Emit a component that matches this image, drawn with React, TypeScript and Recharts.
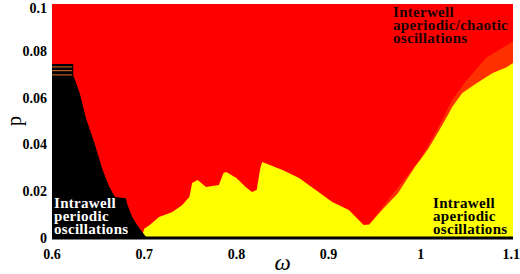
import { ComposedChart, Area, Line, XAxis, YAxis, CartesianGrid, Label } from "recharts";

const xTicks = [0.6, 0.7, 0.8, 0.9, 1, 1.1];
const yTicks = [0, 0.02, 0.04, 0.06, 0.08, 0.1];

// upper edge of the intrawell periodic (black) region
const periodicW = [0.6, 0.623, 0.6232, 0.625, 0.63, 0.637, 0.646, 0.655, 0.662, 0.667, 0.669, 0.68, 0.682, 0.687, 0.692, 0.697, 0.703];
const periodicP = [0.0744, 0.0744, 0.069, 0.0675, 0.062, 0.051, 0.0406, 0.029, 0.022, 0.0184, 0.0175, 0.017, 0.014, 0.009, 0.0058, 0.003, 0];

// upper edge of the intrawell aperiodic (yellow) region
const aperW = [0.697, 0.7, 0.706, 0.716, 0.73, 0.741, 0.749, 0.752, 0.758, 0.767, 0.781, 0.786, 0.789, 0.8, 0.81, 0.817, 0.822, 0.826, 0.828, 0.85, 0.868, 0.886, 0.904, 0.922, 0.938, 0.944, 0.958, 0.975, 0.993, 1.008, 1.02, 1.03, 1.034, 1.045, 1.06, 1.078, 1.093, 1.1];
const aperP = [0, 0.004, 0.0056, 0.009, 0.011, 0.014, 0.0175, 0.0235, 0.0248, 0.0218, 0.0226, 0.0278, 0.0282, 0.0256, 0.0218, 0.0197, 0.0205, 0.03, 0.0325, 0.0291, 0.0256, 0.0205, 0.0154, 0.012, 0.0056, 0.0058, 0.012, 0.019, 0.03, 0.038, 0.046, 0.053, 0.056, 0.062, 0.066, 0.0705, 0.073, 0.0748];

// speckled transition band above the yellow region
const mixW = [0.944, 0.96, 0.98, 1.0, 1.02, 1.034, 1.049, 1.071, 1.1];
const mixP = [0.0058, 0.014, 0.024, 0.034, 0.048, 0.059, 0.067, 0.077, 0.084];

// thin orange stripes at the top of the black region
const stripeP = [0.0731, 0.0715, 0.0697];
const stripeW = [0.6, 0.622];

const toRows = (w: number[], p: number[]) => w.map((x, i) => ({ w: x, p: p[i] }));

const periodicData = toRows(periodicW, periodicP);
const aperData = toRows(aperW, aperP);
const mixData = toRows(mixW, mixP);

const serif = '"Liberation Serif", "Times New Roman", serif';

const noteStyle: React.CSSProperties = {
  position: "absolute",
  fontFamily: serif,
  fontWeight: "bold",
  fontSize: 15,
  lineHeight: "13px",
  letterSpacing: 0.3,
  whiteSpace: "pre",
  pointerEvents: "none",
};

export default function App() {
  return (
    <div style={{ position: "absolute", left: 0, top: 0, width: 520, height: 274, background: "#fff" }}>
      <ComposedChart width={520} height={274} margin={{ top: 4, right: 7, bottom: 0, left: 0 }}>
        <CartesianGrid fill="#ff0000" horizontal={false} vertical={false} stroke="none" />
        <XAxis
          type="number"
          dataKey="w"
          domain={[0.6, 1.1]}
          ticks={xTicks}
          allowDataOverflow
          height={36}
          tickSize={0}
          tickMargin={11}
          axisLine={{ stroke: "#000", strokeWidth: 3 }}
          tick={{ fill: "#000", fontSize: 14, fontWeight: "bold", fontFamily: serif }}
          tickFormatter={(v) => String(v)}
        >
          <Label value="ω" position="insideBottom" offset={4} fill="#000" fontSize={23} fontStyle="italic" fontFamily={serif} />
        </XAxis>
        <YAxis
          type="number"
          domain={[0, 0.1]}
          ticks={yTicks}
          allowDataOverflow
          width={52}
          tickSize={0}
          tickMargin={5}
          axisLine={false}
          tick={{ fill: "#000", fontSize: 14, fontWeight: "bold", fontFamily: serif }}
          tickFormatter={(v) => String(v)}
        >
          <Label value="p" angle={-90} position="center" dx={-12} fill="#000" fontSize={20} fontFamily={serif} />
        </YAxis>
        <Area data={mixData} dataKey="p" type="linear" fill="#ff8a00" fillOpacity={0.35} stroke="none" isAnimationActive={false} />
        <Area data={aperData} dataKey="p" type="linear" fill="#ffff00" fillOpacity={1} stroke="none" isAnimationActive={false} />
        <Area data={periodicData} dataKey="p" type="linear" fill="#000" fillOpacity={1} stroke="none" isAnimationActive={false} />
        {stripeP.map((p, i) => (
          <Line
            key={i}
            data={stripeW.map((w) => ({ w, p }))}
            dataKey="p"
            type="linear"
            stroke="#e07020"
            strokeWidth={1}
            dot={false}
            isAnimationActive={false}
          />
        ))}
      </ComposedChart>
      <div style={{ ...noteStyle, left: 54, top: 197, color: "#fff" }}>{"Intrawell\nperiodic\noscillations"}</div>
      <div style={{ ...noteStyle, left: 393, top: 6, color: "#200000" }}>{"Interwell\naperiodic/chaotic\noscillations"}</div>
      <div style={{ ...noteStyle, left: 433, top: 197, color: "#000" }}>{"Intrawell\naperiodic\noscillations"}</div>
    </div>
  );
}
